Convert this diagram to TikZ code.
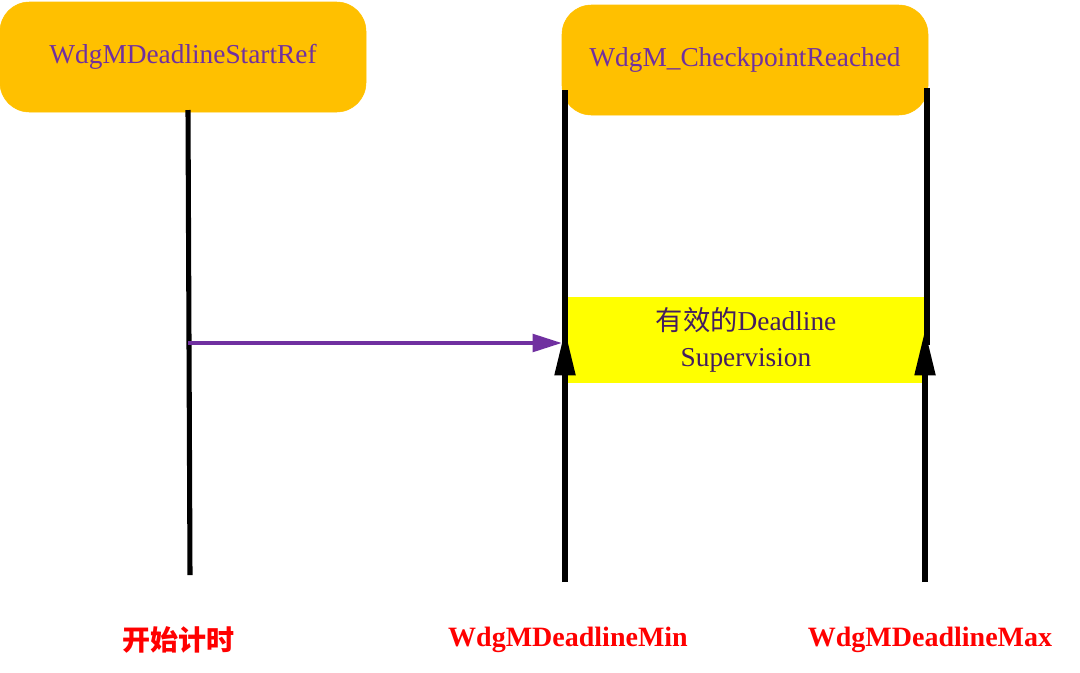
\documentclass[tikz,border=0pt]{standalone}
\usepackage{fontspec}
\setmainfont{Liberation Serif}
\newfontfamily\cjk{Noto Sans CJK SC}
\usetikzlibrary{arrows.meta}
\definecolor{boxor}{HTML}{FFC000}
\definecolor{txtpur}{HTML}{7030A0}
\definecolor{supcol}{HTML}{FFFF00}
\begin{document}
\begin{tikzpicture}[x=0.75pt,y=-0.75pt,
  hdr/.style={draw=boxor,fill=boxor,rounded corners=22pt,minimum width=366*0.75pt,minimum height=110*0.75pt,text=txtpur,font=\fontsize{20.5}{24}\selectfont},
  life/.style={line width=3.8pt,black},
  lab/.style={text=red,font=\fontsize{21}{24}\selectfont\bfseries}]
\useasboundingbox (0,0) rectangle (1080,672);
\node[hdr] (s) at (183,57) {WdgMDeadlineStartRef\hspace{8pt}};
\node[hdr] (c) at (745,60) {WdgM\_CheckpointReached};
\node[fill=supcol,minimum width=358*0.75pt,minimum height=86*0.75pt,align=center,text=txtpur!60!black,font=\fontsize{20.5}{27}\selectfont] (v) at (746,340) {{\cjk 有效的}Deadline\\Supervision};
\coordinate (a1) at (188,110); \coordinate (a2) at (190,575);
\coordinate (b1) at (565,90); \coordinate (bm) at (565,345); \coordinate (b2) at (565,582); \coordinate (bt) at (565,330);
\coordinate (c1) at (927,88); \coordinate (cm) at (927,345); \coordinate (c2) at (925,582); \coordinate (ct) at (925,330);
\coordinate (p) at (188,343); \coordinate (q) at (562,343);
\draw[life] (a1) -- (a2);
\draw[life] (b1) -- (bm);
\draw[life] (c1) -- (cm);
\draw[life,-{Triangle[length=34pt,width=15pt]}] (b2) -- (bt);
\draw[life,-{Triangle[length=34pt,width=15pt]}] (c2) -- (ct);
\draw[line width=3.2pt,txtpur,-{Triangle[length=22pt,width=13pt]}] (p) -- (q);
\node[lab] (l1) at (178,640) {\cjk 开始计时};
\node[lab] (l2) at (568,640) {WdgMDeadlineMin};
\node[lab] (l3) at (930,640) {WdgMDeadlineMax};
\end{tikzpicture}
\end{document}
